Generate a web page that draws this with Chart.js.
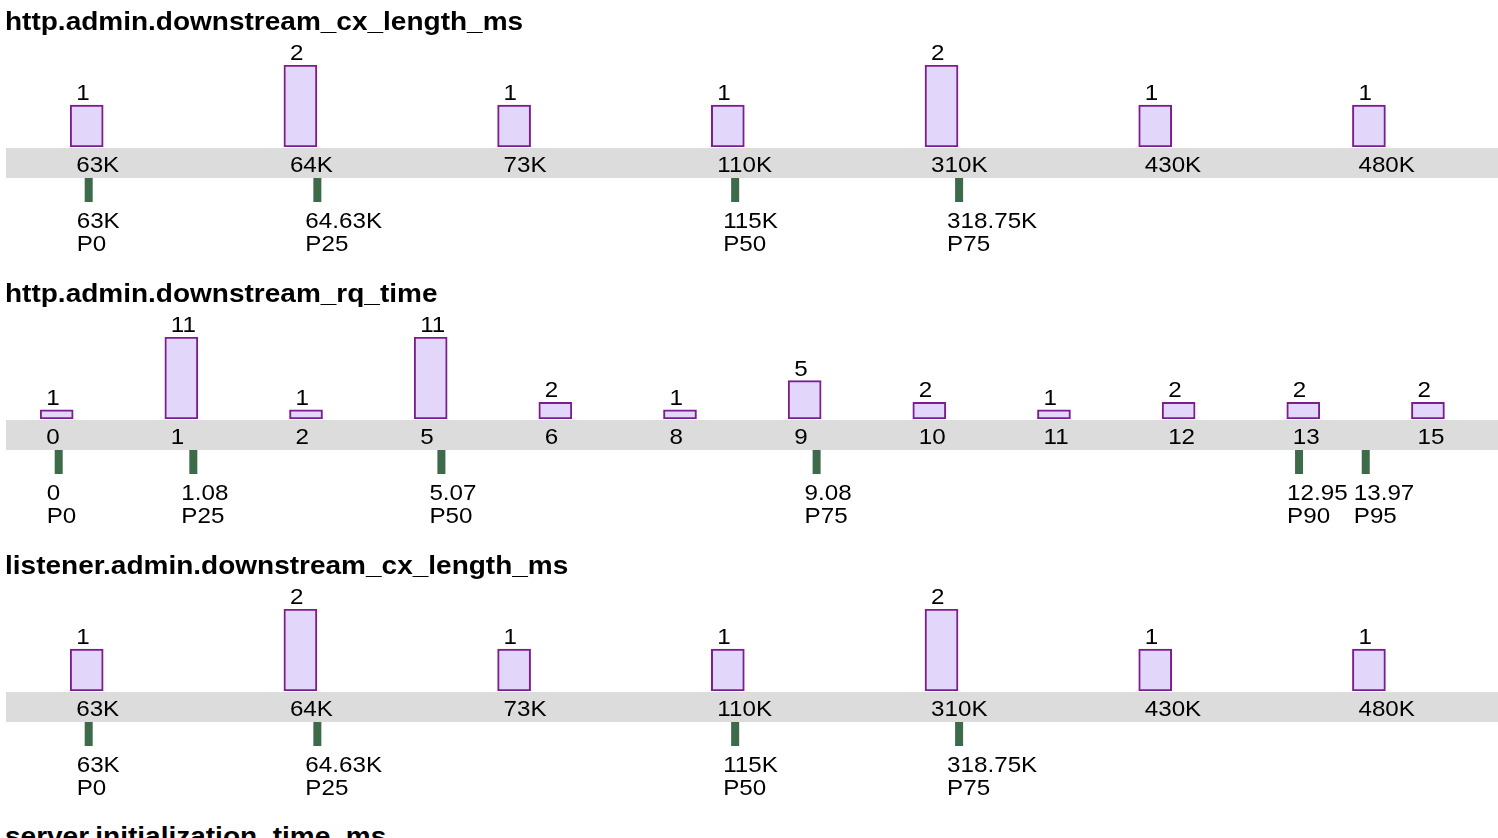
<!DOCTYPE html>
<html>
<head>
<meta charset="utf-8">
<script src="https://cdn.jsdelivr.net/npm/chart.js@4.4.1/dist/chart.umd.min.js"></script>
<style>
  html, body { margin: 0; padding: 0; background: #fff; overflow: hidden; }
  .panel { position: absolute; left: 0; }
  #t4 { position: absolute; left: 5px; top: 824px; font: bold 25px "Liberation Sans", Arial, sans-serif;
        line-height: 25px; transform: scaleX(1.12); transform-origin: left top; white-space: nowrap; }
</style>
</head>
<body>
<canvas id="c1" class="panel" width="1498" height="272" style="top:0px"></canvas>
<canvas id="c2" class="panel" width="1498" height="272" style="top:272px"></canvas>
<canvas id="c3" class="panel" width="1498" height="272" style="top:544px"></canvas>
<div id="t4">server.initialization_time_ms</div>
<script>
// histogram 1 / 3: cx_length_ms
var cxBuckets = [63000, 64000, 73000, 110000, 310000, 430000, 480000];
var cxBucketLabels = ['63K', '64K', '73K', '110K', '310K', '430K', '480K'];
var cxCounts = [1, 2, 1, 1, 2, 1, 1];
var cxPctValues = [63000, 64630, 115000, 318750];
var cxPctLabels = ['63K', '64.63K', '115K', '318.75K'];
var cxPctNames = ['P0', 'P25', 'P50', 'P75'];

// histogram 2: rq_time
var rqBuckets = [0, 1, 2, 5, 6, 8, 9, 10, 11, 12, 13, 15];
var rqBucketLabels = ['0', '1', '2', '5', '6', '8', '9', '10', '11', '12', '13', '15'];
var rqCounts = [1, 11, 1, 11, 2, 1, 5, 2, 1, 2, 2, 2];
var rqPctValues = [0, 1.08, 5.07, 9.08, 12.95, 13.97];
var rqPctLabels = ['0', '1.08', '5.07', '9.08', '12.95', '13.97'];
var rqPctNames = ['P0', 'P25', 'P50', 'P75', 'P90', 'P95'];

var SX = 1.1;          // text is a bit wider than plain Arial
var SMALL = '22px "Liberation Sans", Arial, sans-serif';
var TITLE = 'bold 25px "Liberation Sans", Arial, sans-serif';

function wideText(ctx, s, x, y, sx) {
  ctx.save();
  ctx.translate(x, y);
  ctx.scale(sx, 1);
  ctx.fillText(s, 0, 0);
  ctx.restore();
}

// bucket value -> fractional bucket index
function bucketPos(buckets, v) {
  for (var i = 0; i < buckets.length - 1; i++) {
    if (v <= buckets[i + 1]) return i + (v - buckets[i]) / (buckets[i + 1] - buckets[i]);
  }
  return buckets.length - 1;
}

var histoPlugin = {
  id: 'histo',
  afterDatasetsDraw: function (chart) {
    var h = chart.options.plugins.histo;
    var ctx = chart.ctx;
    var x = chart.scales.x;
    var bars = chart.getDatasetMeta(0).data;
    ctx.save();
    ctx.fillStyle = '#000';
    ctx.textAlign = 'left';
    ctx.textBaseline = 'alphabetic';
    ctx.font = TITLE;
    wideText(ctx, h.title, 5, 29.5, 1.12);

    // grey band
    ctx.fillStyle = '#dcdcdc';
    ctx.fillRect(6, 148, chart.width - 6, 30);

    ctx.font = SMALL;
    ctx.fillStyle = '#000';
    bars.forEach(function (b, i) {
      wideText(ctx, String(h.counts[i]), b.x - 10.5, b.y - 5, SX);
      wideText(ctx, h.labels[i], b.x - 10.5, 172, SX);
    });

    // percentile markers
    h.pcts.forEach(function (v, i) {
      var px = x.getPixelForValue(bucketPos(h.buckets, v)) + 2;
      ctx.fillStyle = '#3d6a48';
      ctx.fillRect(px - 4, 178, 8, 24);
      ctx.fillStyle = '#000';
      wideText(ctx, h.pctLabels[i], px - 12, 228, SX);
      wideText(ctx, h.pctNames[i], px - 12, 251, SX);
    });
    ctx.restore();
  }
};

function histogram(id, title, buckets, labels, counts, pcts, pctLabels, pctNames, xMin, xMax) {
  var top = Math.max.apply(null, counts);
  return new Chart(document.getElementById(id), {
    type: 'bar',
    data: {
      datasets: [{
        data: counts.map(function (c, i) { return { x: i, y: c }; }),
        backgroundColor: '#e2d7fa',
        borderColor: '#7b1d8e',
        borderWidth: 2,
        borderSkipped: false,
        barThickness: 33,
        base: -top * 2 / 80
      }]
    },
    options: {
      responsive: false,
      animation: false,
      devicePixelRatio: 1,
      layout: { padding: { top: 65, bottom: 125, left: 6, right: 0 } },
      scales: {
        x: { type: 'linear', min: xMin, max: xMax, offset: false, display: false },
        // bars keep a 2px border box even for small counts
        y: { min: -top * 2 / 80, max: top, display: false }
      },
      plugins: {
        legend: { display: false },
        tooltip: { enabled: false },
        histo: {
          title: title, buckets: buckets, labels: labels, counts: counts,
          pcts: pcts, pctLabels: pctLabels, pctNames: pctNames
        }
      }
    },
    plugins: [histoPlugin]
  });
}

histogram('c1', 'http.admin.downstream_cx_length_ms', cxBuckets, cxBucketLabels, cxCounts,
  cxPctValues, cxPctLabels, cxPctNames, -0.3776, 6.604);
histogram('c2', 'http.admin.downstream_rq_time', rqBuckets, rqBucketLabels, rqCounts,
  rqPctValues, rqPctLabels, rqPctNames, -0.4067, 11.562);
histogram('c3', 'listener.admin.downstream_cx_length_ms', cxBuckets, cxBucketLabels, cxCounts,
  cxPctValues, cxPctLabels, cxPctNames, -0.3776, 6.604);
</script>
</body>
</html>
